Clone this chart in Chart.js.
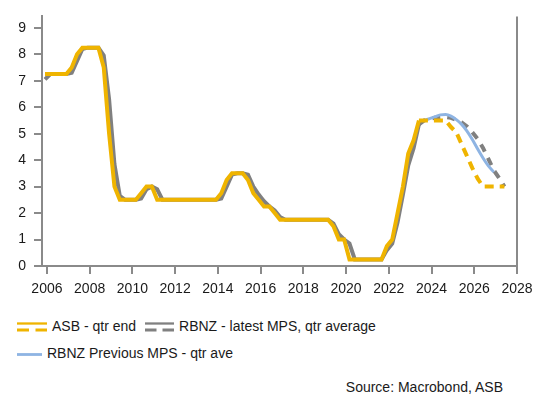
<!DOCTYPE html>
<html>
<head>
<meta charset="utf-8">
<title>OCR forecasts</title>
<script src="https://cdn.jsdelivr.net/npm/chart.js@4.4.1/dist/chart.umd.min.js"></script>
<style>
  html, body { margin: 0; padding: 0; background: #fff; }
  body { width: 540px; height: 411px; position: relative; overflow: hidden;
         font-family: 'Liberation Sans', Arial, sans-serif; font-size: 14px; color: #1a1a1a; }
  #wrap { position: absolute; left: 0; top: 0; width: 540px; height: 300px; }
  .row { position: absolute; left: 17px; display: flex; align-items: center; height: 17px; line-height: 17px; white-space: nowrap; }
  .row svg { display: block; margin-right: 5px; }
  .row .gap { width: 9px; }
  #source { position: absolute; right: 37px; top: 379px; line-height: 17px; }
</style>
</head>
<body>
<div id="wrap"><canvas id="ocrChart"></canvas></div>

<div class="row" style="top:318px">
  <svg width="30" height="12"><line x1="0" y1="2.5" x2="30" y2="2.5" stroke="#EFB400" stroke-width="2.3"/><line x1="0" y1="9" x2="30" y2="9" stroke="#EFB400" stroke-width="2.8" stroke-dasharray="12 6.5"/></svg>
  <span>ASB - qtr end</span>
  <span class="gap"></span>
  <svg width="29" height="12"><line x1="0" y1="2.5" x2="29" y2="2.5" stroke="#808080" stroke-width="2.3"/><line x1="0" y1="9" x2="29" y2="9" stroke="#808080" stroke-width="2.8" stroke-dasharray="11.5 6"/></svg>
  <span>RBNZ - latest MPS, qtr average</span>
</div>
<div class="row" style="top:345px">
  <svg width="25" height="12"><line x1="0" y1="6.5" x2="25" y2="6.5" stroke="#8EB4E3" stroke-width="2.8"/></svg>
  <span>RBNZ Previous MPS - qtr ave</span>
</div>
<div id="source">Source: Macrobond, ASB</div>

<script>
// quarterly series, 2005 Q4 .. 2027 Q2
const firstYear = 2005, firstQtr = 4, nQuarters = 87;

const asbQtrEnd = [
  7.25,
  7.25, 7.25, 7.25, 7.25,   // 2006
  7.5, 8.0, 8.25, 8.25,     // 2007
  8.25, 8.25, 7.5, 5.0,     // 2008
  3.0, 2.5, 2.5, 2.5,       // 2009
  2.5, 2.75, 3.0, 3.0,      // 2010
  2.5, 2.5, 2.5, 2.5,       // 2011
  2.5, 2.5, 2.5, 2.5,       // 2012
  2.5, 2.5, 2.5, 2.5,       // 2013
  2.75, 3.25, 3.5, 3.5,     // 2014
  3.5, 3.25, 2.75, 2.5,     // 2015
  2.25, 2.25, 2.0, 1.75,    // 2016
  1.75, 1.75, 1.75, 1.75,   // 2017
  1.75, 1.75, 1.75, 1.75,   // 2018
  1.75, 1.5, 1.0, 1.0,      // 2019
  0.25, 0.25, 0.25, 0.25,   // 2020
  0.25, 0.25, 0.25, 0.75,   // 2021
  1.0, 2.0, 3.0, 4.25,      // 2022
  4.75, 5.5, 5.5, 5.5,      // 2023
  5.5, 5.5, 5.5, 5.25,      // 2024
  5.05, 4.6, 4.15, 3.7,     // 2025
  3.3, 3.0, 3.0, 3.0,       // 2026
  3.0, 3.0                  // 2027
];

const rbnzLatest = [
  7.05,
  7.25, 7.25, 7.25, 7.25,   // 2006
  7.3, 7.75, 8.2, 8.25,     // 2007
  8.25, 8.25, 7.95, 6.3,    // 2008
  3.85, 2.65, 2.5, 2.5,     // 2009
  2.5, 2.55, 2.9, 3.0,      // 2010
  2.9, 2.5, 2.5, 2.5,       // 2011
  2.5, 2.5, 2.5, 2.5,       // 2012
  2.5, 2.5, 2.5, 2.5,       // 2013
  2.55, 3.0, 3.45, 3.5,     // 2014
  3.5, 3.45, 3.0, 2.7,      // 2015
  2.45, 2.25, 2.1, 1.85,    // 2016
  1.75, 1.75, 1.75, 1.75,   // 2017
  1.75, 1.75, 1.75, 1.75,   // 2018
  1.75, 1.6, 1.2, 1.0,      // 2019
  0.85, 0.25, 0.25, 0.25,   // 2020
  0.25, 0.25, 0.25, 0.6,    // 2021
  0.85, 1.65, 2.7, 3.8,     // 2022
  4.45, 5.35, 5.5, 5.55,    // 2023
  5.6, 5.62, 5.63, 5.6,     // 2024
  5.52, 5.42, 5.27, 5.05,   // 2025
  4.8, 4.46, 4.05, 3.62,    // 2026
  3.33, 3.0                 // 2027
];

// previous MPS track, 2023 Q3 .. 2026 Q4
const prevStart = '2023 Q3';
const rbnzPrevious = [
  5.5, 5.57,                // 2023
  5.64, 5.71, 5.72, 5.66,   // 2024
  5.53, 5.35, 5.1, 4.78,    // 2025
  4.42, 4.08, 3.78, 3.55    // 2026
];

const forecastFrom = '2023 Q2';
const yearTicks = [2006, 2008, 2010, 2012, 2014, 2016, 2018, 2020, 2022, 2024, 2026, 2028];
const valueTicks = [0, 1, 2, 3, 4, 5, 6, 7, 8, 9];

// quarter labels
const quarters = [];
for (let i = 0; i < nQuarters; i++) {
  const q = firstQtr - 1 + i;
  quarters.push((firstYear + Math.floor(q / 4)) + ' Q' + (q % 4 + 1));
}

// position of a quarter on the year axis
function qx(label) {
  const [y, q] = label.split(' Q').map(Number);
  return y + (q - 1) / 4 + 0.16;
}

const forecastIdx = quarters.indexOf(forecastFrom);
const prevIdx = quarters.indexOf(prevStart);

const YELLOW = '#EFB400';
const GREY = '#808080';
const BLUE = '#8EB4E3';
const AXIS = '#8a8a8a';

Chart.defaults.font.family = "'Liberation Sans', Arial, sans-serif";
Chart.defaults.font.size = 14;
Chart.defaults.color = '#1a1a1a';

const ctx = document.getElementById('ocrChart').getContext('2d');
new Chart(ctx, {
  type: 'line',
  data: {
    datasets: [
      {
        label: 'ASB - qtr end',
        data: asbQtrEnd.map((v, i) => ({ x: qx(quarters[i]), y: v })),
        borderColor: YELLOW,
        borderWidth: 4,
        pointRadius: 0,
        tension: 0,
        order: 0,
        segment: {
          borderDash: c => c.p0DataIndex >= forecastIdx ? [9, 6] : undefined
        }
      },
      {
        label: 'RBNZ Previous MPS - qtr ave',
        data: rbnzPrevious.map((v, i) => ({ x: qx(quarters[prevIdx + i]), y: v })),
        borderColor: BLUE,
        borderWidth: 3,
        pointRadius: 0,
        cubicInterpolationMode: 'monotone',
        order: 1
      },
      {
        label: 'RBNZ - latest MPS, qtr average',
        data: rbnzLatest.map((v, i) => ({ x: qx(quarters[i]), y: v })),
        borderColor: GREY,
        borderWidth: 4,
        pointRadius: 0,
        tension: 0,
        order: 2,
        segment: {
          borderDash: c => c.p0DataIndex >= forecastIdx ? [8, 7] : undefined
        }
      }
    ]
  },
  options: {
    responsive: true,
    maintainAspectRatio: false,
    animation: false,
    layout: { padding: { top: 3, right: 23, left: 0, bottom: 0 } },
    plugins: {
      legend: { display: false },
      tooltip: { enabled: false }
    },
    scales: {
      x: {
        type: 'linear',
        min: 2005.77,
        max: 2028,
        afterBuildTicks: axis => { axis.ticks = yearTicks.map(v => ({ value: v })); },
        afterFit: axis => { axis.height = 34; },
        ticks: { padding: 7, maxRotation: 0, callback: v => String(v) },
        grid: {
          drawOnChartArea: true,
          color: c => (c.tick && c.tick.value === 2028) ? AXIS : 'rgba(0,0,0,0)',
          tickColor: AXIS,
          lineWidth: 2,
          tickLength: 8
        },
        border: { display: true, color: AXIS, width: 2 }
      },
      y: {
        min: 0,
        max: 9.43,
        afterBuildTicks: axis => { axis.ticks = valueTicks.map(v => ({ value: v })); },
        afterFit: axis => { axis.width = 42; },
        ticks: { padding: 8, callback: v => String(v) },
        grid: {
          drawOnChartArea: false,
          tickColor: AXIS,
          lineWidth: 2,
          tickLength: 8
        },
        border: { display: true, color: AXIS, width: 2 }
      }
    }
  }
});
</script>
</body>
</html>
